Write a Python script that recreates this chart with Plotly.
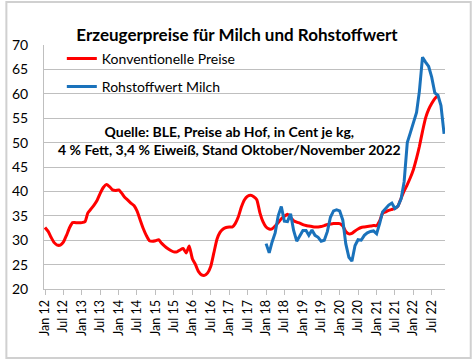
import pandas as pd
import plotly.graph_objects as go

# Monthly values, Jan 2012 onwards (Cent/kg)
konventionell = [
    32.6, 31.8, 30.6, 29.5, 29.0, 29.0, 29.6, 31.0, 32.6, 33.6, 33.6, 33.6,   # 2012
    33.6, 33.8, 35.6, 36.4, 37.2, 38.2, 39.6, 40.8, 41.4, 41.0, 40.3, 40.2,   # 2013
    40.3, 39.6, 38.8, 38.2, 37.6, 37.1, 36.0, 34.2, 32.4, 31.0, 29.9, 29.8,   # 2014
    29.9, 30.1, 29.4, 28.8, 28.3, 27.9, 27.6, 27.6, 28.0, 28.3, 27.4, 28.8,   # 2015
    26.2, 25.0, 23.6, 22.9, 22.8, 23.3, 24.6, 27.4, 30.2, 31.6, 32.3, 32.6,   # 2016
    32.7, 32.7, 33.4, 34.8, 36.8, 38.3, 39.0, 39.2, 38.9, 38.3, 35.6, 33.8,   # 2017
    32.7, 32.3, 32.3, 32.9, 33.6, 34.4, 34.9, 35.3, 34.6, 34.0, 33.7, 33.5,   # 2018
    33.2, 33.0, 32.9, 32.8, 32.7, 32.7, 32.8, 33.0, 33.2, 33.3, 33.4, 33.4,   # 2019
    33.4, 32.9, 31.8, 31.3, 31.4, 31.9, 32.3, 32.6, 32.7, 32.8, 32.9, 33.0,   # 2020
    33.0, 34.0, 35.5, 35.8, 36.1, 36.3, 36.5, 37.0, 38.6, 40.1, 41.4, 42.8,   # 2021
    44.5, 46.8, 49.2, 52.3, 55.0, 56.8, 58.0, 59.0, 59.7,                     # 2022
]

# Rohstoffwert Milch, Jan 2018 onwards
rohstoffwert = [
    29.3, 27.4, 29.6, 31.5, 35.0, 36.9, 33.9, 33.8, 35.4, 32.0, 29.8, 30.8,   # 2018
    32.0, 32.0, 31.0, 32.1, 31.0, 30.6, 29.8, 30.0, 31.8, 34.7, 36.0, 36.2,   # 2019
    36.0, 34.1, 29.3, 26.5, 25.7, 28.9, 30.1, 30.0, 31.0, 31.5, 31.8, 31.9,   # 2020
    31.3, 33.5, 35.8, 36.5, 37.2, 37.6, 36.5, 37.0, 38.5, 42.0, 50.0, 52.0,   # 2021
    54.0, 56.2, 60.5, 67.5, 66.5, 65.6, 63.4, 60.2, 59.7, 57.6, 51.8,         # 2022
]

tick_dates = pd.date_range("2012-01-01", "2022-07-01", freq="6MS")
tick_labels = [d.strftime("%b %y") for d in tick_dates]

x_red = pd.date_range("2012-01-01", periods=len(konventionell), freq="MS")
x_blue = pd.date_range("2018-01-01", periods=len(rohstoffwert), freq="MS")

FONT = "Lato"

fig = go.Figure()
fig.add_trace(go.Scatter(
    x=x_red, y=konventionell, mode="lines", name="Konventionelle Preise",
    line=dict(color="#FF0000", width=3, shape="spline", smoothing=0.5),
    legendgroup="a",
))
fig.add_trace(go.Scatter(
    x=x_blue, y=rohstoffwert, mode="lines", name="Rohstoffwert Milch",
    line=dict(color="#1A72BB", width=3),
    legendgroup="b",
))

fig.update_layout(
    width=474, height=362,
    margin=dict(l=40, r=29, t=45, b=73),
    paper_bgcolor="white", plot_bgcolor="white",
    font=dict(family=FONT, color="black"),
    title=dict(text="<b>Erzeugerpreise für Milch und Rohstoffwert</b>",
               x=0.5, xanchor="center", y=1 - 35 / 362, yanchor="middle",
               font=dict(size=17, family=FONT, color="black")),
    showlegend=True,
    legend=dict(x=(58 - 40) / 405, y=1.009, xanchor="left", yanchor="top",
                bgcolor="rgba(0,0,0,0)", font=dict(size=14, family=FONT),
                tracegroupgap=7, itemwidth=30),
    annotations=[dict(
        text="<b>Quelle: BLE, Preise ab Hof, in Cent je kg,<br>4 % Fett, 3,4 % Eiweiß, Stand Oktober/November 2022</b>",
        xref="paper", yref="paper", x=(227.5 - 40) / 405, y=(289 - 140) / 244,
        xanchor="center", yanchor="middle", showarrow=False, align="center",
        font=dict(size=14, family=FONT, color="black"),
    )],
    shapes=[dict(type="rect", xref="paper", yref="paper",
                 x0=(2 - 40) / 405, x1=(471 - 40) / 405,
                 y0=(289 - 358) / 244, y1=(289 - 2) / 244,
                 line=dict(color="#D0D0D0", width=2), layer="below")],
)

fig.update_yaxes(range=[20, 70], dtick=5, showgrid=True, gridcolor="#BFBFBF", gridwidth=1,
                 showline=True, linecolor="#BFBFBF", linewidth=1, zeroline=False,
                 ticks="", tickfont=dict(size=14, family=FONT), ticklabelstandoff=12)
fig.update_xaxes(type="date", range=["2011-12-22", "2022-11-10"],
                 tickvals=tick_dates, ticktext=tick_labels, tickangle=-90,
                 showgrid=False, showline=True, linecolor="#BFBFBF", linewidth=1,
                 ticks="outside", ticklen=5, tickcolor="#BFBFBF",
                 tickfont=dict(size=12.5, family=FONT), ticklabelstandoff=0)

fig.write_html("out.html", config={"displayModeBar": False},
               post_script="document.body.style.margin='0';")
